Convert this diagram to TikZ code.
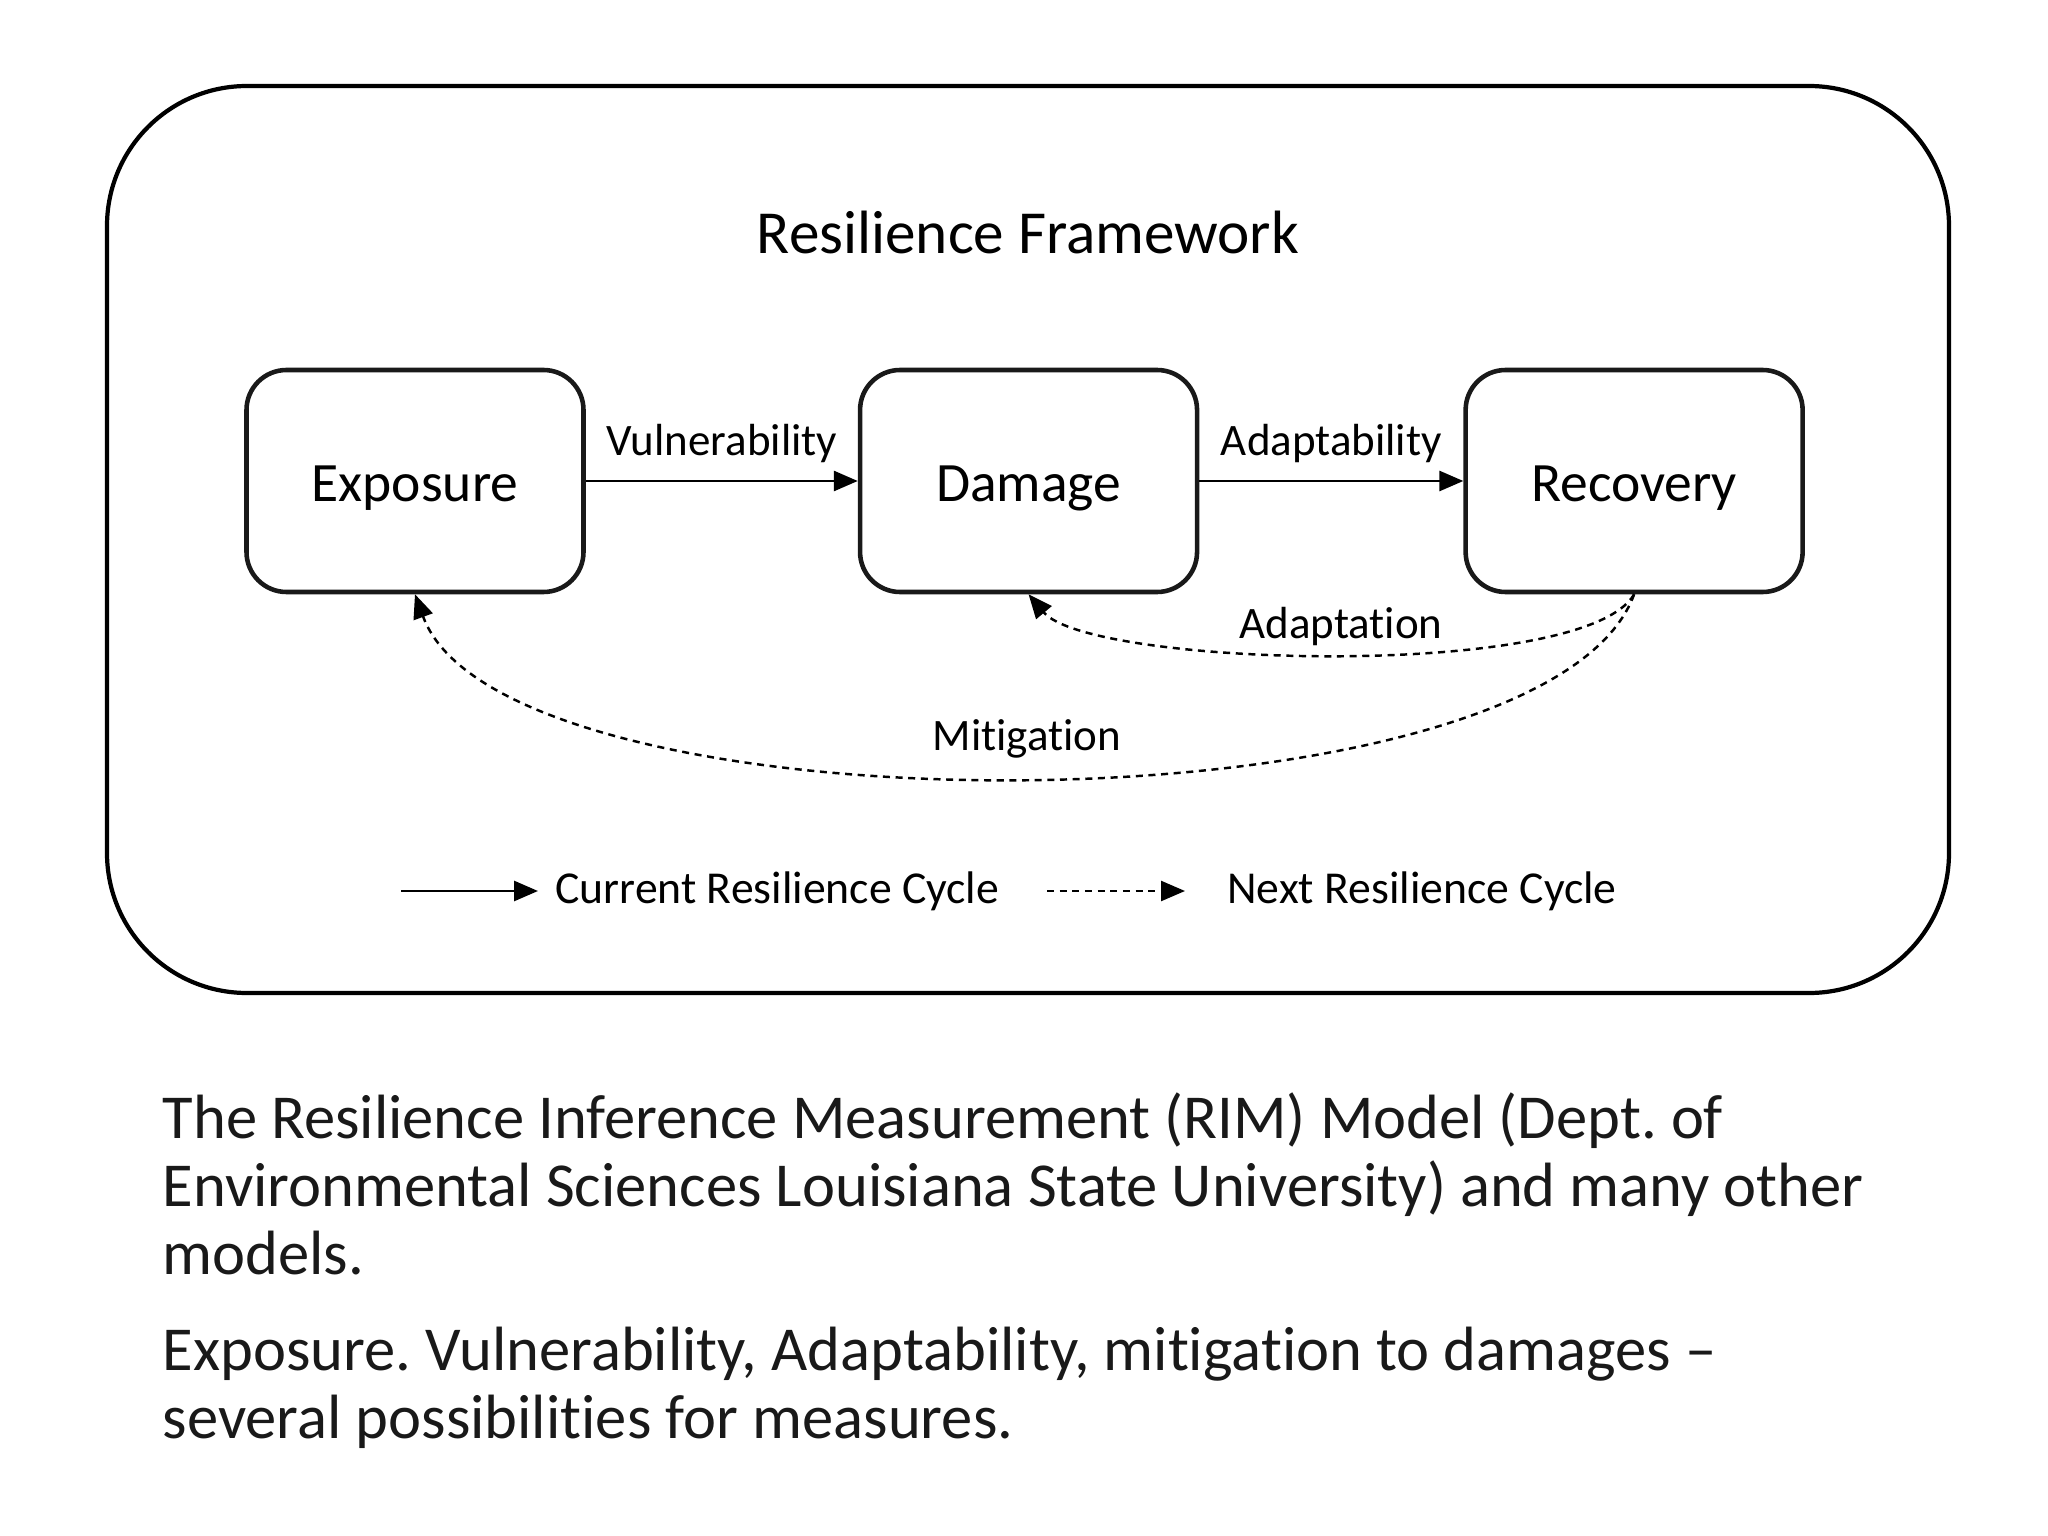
\documentclass[tikz,border=0pt]{standalone}
\usepackage{fontspec}
\setmainfont{Carlito}[Ligatures={TeX,NoCommon}]
\usepackage{tikz}
\usetikzlibrary{arrows.meta,positioning}
\frenchspacing

\begin{document}
\begin{tikzpicture}[node distance=0.5cm and 2.72cm, box/.style={draw=black!90, line width=1.3pt, rounded corners=0.4cm, minimum width=3.37cm, minimum height=2.22cm, text height=11.6pt, text depth=0pt, font=\fontsize{15.8}{18}\selectfont}, lbl/.style={font=\fontsize{12.8}{15}\selectfont}, leg/.style={font=\fontsize{13}{15}\selectfont}, captext/.style={anchor=north west, align=left, inner sep=0pt, text=black!90, font=\fontsize{17.8}{19.4}\selectfont}, arr/.style={-{Triangle[length=0.24cm,width=0.2cm]}, line width=0.8pt}, darr/.style={-{Triangle[length=0.24cm,width=0.2cm]}, line width=0.7pt, dash pattern=on 2pt off 1.6pt}]
\useasboundingbox (0,0) rectangle (20.48,-15.36);
\draw[line width=1.2pt, rounded corners=1.4cm] (1.07,-0.86) rectangle (19.49,-9.93);
\node[font=\fontsize{17.4}{20}\selectfont] (title) at (10.28,-2.32) {Resilience Framework};
\node[box] (exposure) at (4.15,-4.81) {Exposure};
\node[box,right=of exposure] (damage) {Damage};
\node[box,right=2.64cm of damage] (recovery) {Recovery};
\draw[arr] (exposure)--node[lbl,above=0.05cm] (vuln) {Vulnerability} (damage);
\draw[arr] (damage)--node[lbl,above=0.05cm] (adapt) {Adaptability} (recovery);
\draw[darr] (recovery.south) .. controls +(240:1.0) and +(-50:0.95) .. (damage.south);
\draw[darr] (recovery.south) .. controls +(250:2.6) and +(-70:2.6) .. (exposure.south);
\node[lbl] (adaptn) at (13.41,-6.27) {Adaptation};
\node[lbl] (mitig) at (10.27,-7.39) {Mitigation};
% legend
\coordinate (cur0) at (4.01,-8.91);
\coordinate (cur1) at (5.38,-8.91);
\draw[arr] (cur0)--(cur1);
\node[leg,right=0.05cm of cur1] (curtxt) {Current Resilience Cycle};
\coordinate (nxt0) at (10.47,-8.91);
\coordinate (nxt1) at (11.85,-8.91);
\draw[darr] (nxt0)--(nxt1);
\node[leg,right=0.3cm of nxt1] (nxttxt) {Next Resilience Cycle};
% caption
\node[captext] (capa) at (1.62,-10.92) {The Resilience Inference Measurement (RIM) Model (Dept. of\\Environmental Sciences Louisiana State University) and many other\\models.};
\node[captext] (capb) at (1.62,-13.26) {Exposure. Vulnerability, Adaptability, mitigation to damages –\\several possibilities for measures.};
\end{tikzpicture}
\end{document}
